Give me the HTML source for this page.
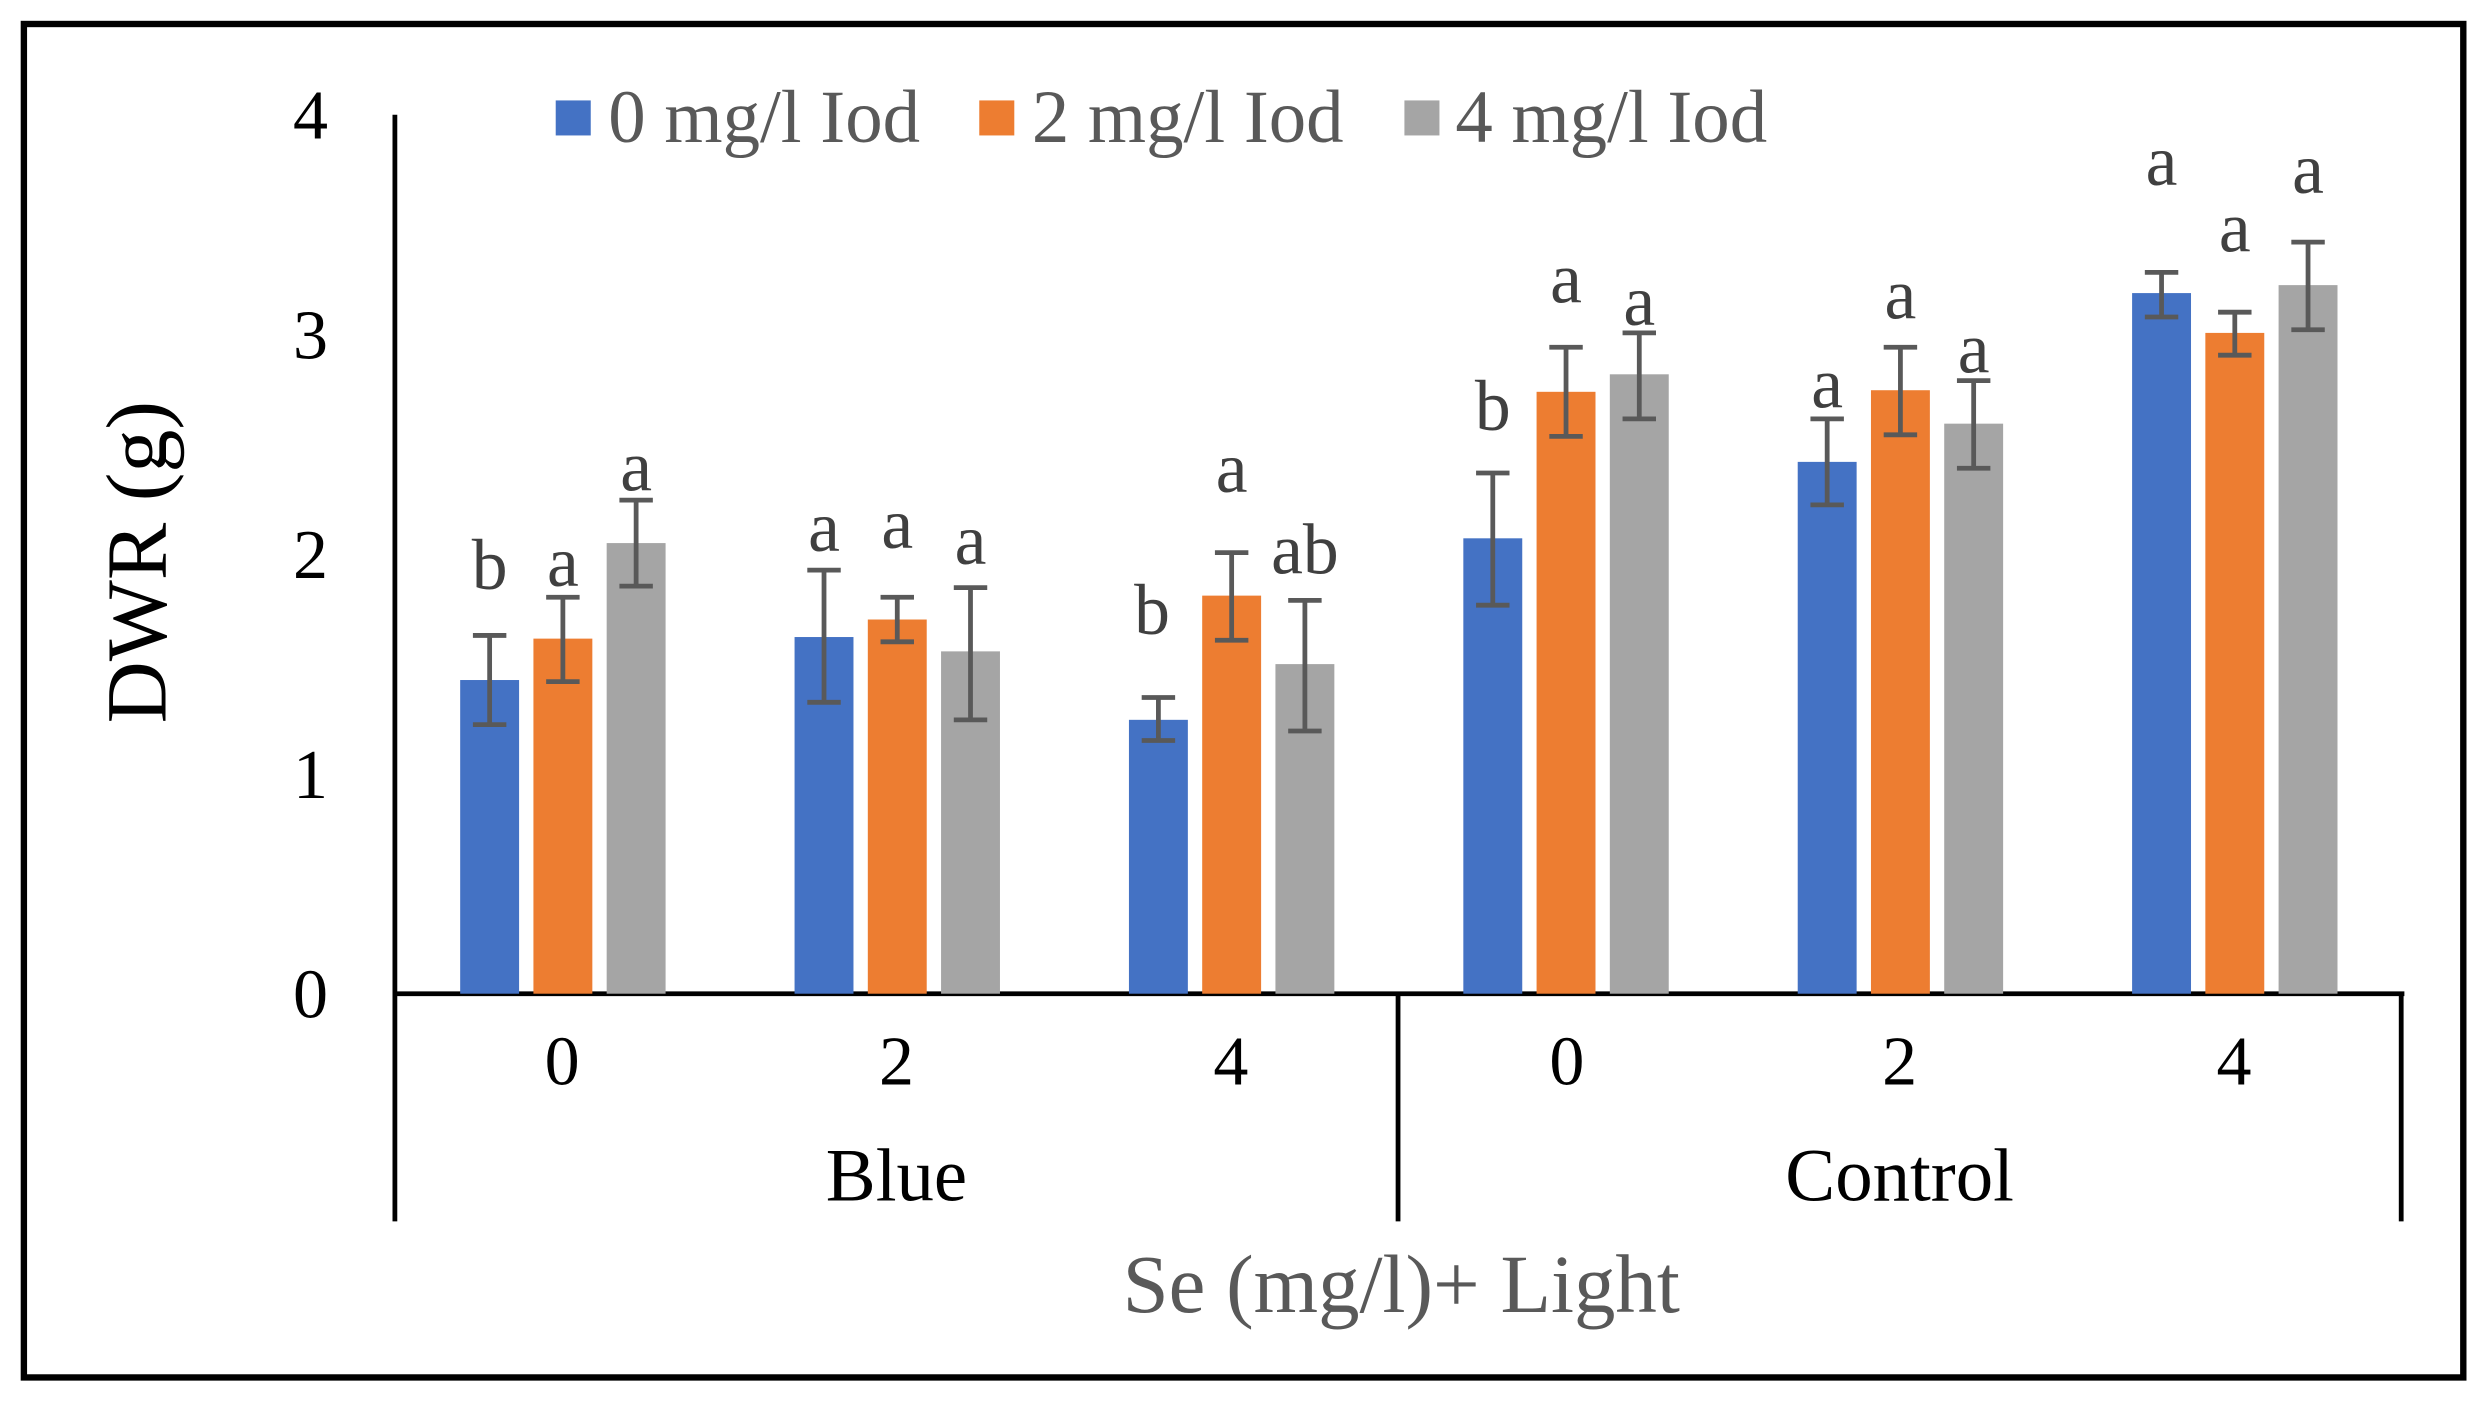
<!DOCTYPE html>
<html><head><style>html,body{margin:0;padding:0;background:#fff}svg{display:block}</style></head>
<body>
<svg width="2484" height="1411" viewBox="0 0 1560 886" xmlns="http://www.w3.org/2000/svg" font-family="'Liberation Serif',serif">
<rect x="0" y="0" width="1560" height="886" fill="#fff"/>
<rect x="15" y="15" width="1532" height="850" fill="none" stroke="#000" stroke-width="4"/>
<line x1="248" y1="72" x2="248" y2="767" stroke="#000" stroke-width="3"/>
<line x1="248" y1="624" x2="1510" y2="624" stroke="#000" stroke-width="3"/>
<line x1="878" y1="624" x2="878" y2="767" stroke="#000" stroke-width="3"/>
<line x1="1508" y1="624" x2="1508" y2="767" stroke="#000" stroke-width="3"/>
<g font-size="44" fill="#000" text-anchor="middle">
<text x="195" y="87">4</text>
<text x="195" y="225">3</text>
<text x="195" y="363">2</text>
<text x="195" y="501">1</text>
<text x="195" y="639">0</text>
</g>
<text transform="translate(104,353) rotate(-90)" font-size="54" text-anchor="middle" fill="#000">DWR (g)</text>
<g font-size="47" fill="#595959">
<rect x="349" y="63" width="22" height="22" fill="#4472C4"/><text x="382" y="89">0 mg/l Iod</text>
<rect x="615" y="63" width="22" height="22" fill="#ED7D31"/><text x="648" y="89">2 mg/l Iod</text>
<rect x="882" y="63" width="22" height="22" fill="#A5A5A5"/><text x="914" y="89">4 mg/l Iod</text>
</g>
<g>
<rect x="289" y="427" width="37" height="197" fill="#4472C4"/>
<rect x="335" y="401" width="37" height="223" fill="#ED7D31"/>
<rect x="381" y="341" width="37" height="283" fill="#A5A5A5"/>
<rect x="499" y="400" width="37" height="224" fill="#4472C4"/>
<rect x="545" y="389" width="37" height="235" fill="#ED7D31"/>
<rect x="591" y="409" width="37" height="215" fill="#A5A5A5"/>
<rect x="709" y="452" width="37" height="172" fill="#4472C4"/>
<rect x="755" y="374" width="37" height="250" fill="#ED7D31"/>
<rect x="801" y="417" width="37" height="207" fill="#A5A5A5"/>
<rect x="919" y="338" width="37" height="286" fill="#4472C4"/>
<rect x="965" y="246" width="37" height="378" fill="#ED7D31"/>
<rect x="1011" y="235" width="37" height="389" fill="#A5A5A5"/>
<rect x="1129" y="290" width="37" height="334" fill="#4472C4"/>
<rect x="1175" y="245" width="37" height="379" fill="#ED7D31"/>
<rect x="1221" y="266" width="37" height="358" fill="#A5A5A5"/>
<rect x="1339" y="184" width="37" height="440" fill="#4472C4"/>
<rect x="1385" y="209" width="37" height="415" fill="#ED7D31"/>
<rect x="1431" y="179" width="37" height="445" fill="#A5A5A5"/>
</g>
<g stroke="#595959" stroke-width="3" fill="none">
<path d="M307.5,399V455M297,399H318M297,455H318"/>
<path d="M353.5,375V428M343,375H364M343,428H364"/>
<path d="M399.5,314V368M389,314H410M389,368H410"/>
<path d="M517.5,358V441M507,358H528M507,441H528"/>
<path d="M563.5,375V403M553,375H574M553,403H574"/>
<path d="M609.5,369V452M599,369H620M599,452H620"/>
<path d="M727.5,438V465M717,438H738M717,465H738"/>
<path d="M773.5,347V402M763,347H784M763,402H784"/>
<path d="M819.5,377V459M809,377H830M809,459H830"/>
<path d="M937.5,297V380M927,297H948M927,380H948"/>
<path d="M983.5,218V274M973,218H994M973,274H994"/>
<path d="M1029.5,209V263M1019,209H1040M1019,263H1040"/>
<path d="M1147.5,263V317M1137,263H1158M1137,317H1158"/>
<path d="M1193.5,218V273M1183,218H1204M1183,273H1204"/>
<path d="M1239.5,239V294M1229,239H1250M1229,294H1250"/>
<path d="M1357.5,171V199M1347,171H1368M1347,199H1368"/>
<path d="M1403.5,196V223M1393,196H1414M1393,223H1414"/>
<path d="M1449.5,152V207M1439,152H1460M1439,207H1460"/>
</g>
<g font-size="45" fill="#404040" text-anchor="middle">
<text x="307.5" y="370">b</text><text x="353.5" y="368">a</text><text x="399.5" y="308">a</text>
<text x="517.5" y="346">a</text><text x="563.5" y="344">a</text><text x="609.5" y="354">a</text>
<text x="723.5" y="398">b</text><text x="773.5" y="309">a</text><text x="819.5" y="360">ab</text>
<text x="937.5" y="270">b</text><text x="983.5" y="190">a</text><text x="1029.5" y="204">a</text>
<text x="1147.5" y="256">a</text><text x="1193.5" y="200">a</text><text x="1239.5" y="234">a</text>
<text x="1357.5" y="116">a</text><text x="1403.5" y="158">a</text><text x="1449.5" y="121">a</text>
</g>
<g font-size="44" fill="#000" text-anchor="middle">
<text x="353" y="681">0</text><text x="563" y="681">2</text><text x="773" y="681">4</text>
<text x="984" y="681">0</text><text x="1193" y="681">2</text><text x="1403" y="681">4</text>
</g>
<g font-size="47" fill="#000" text-anchor="middle">
<text x="563" y="754">Blue</text><text x="1193" y="754">Control</text>
</g>
<text x="880" y="824" font-size="52" fill="#595959" text-anchor="middle">Se (mg/l)+ Light</text>
</svg>
</body></html>
